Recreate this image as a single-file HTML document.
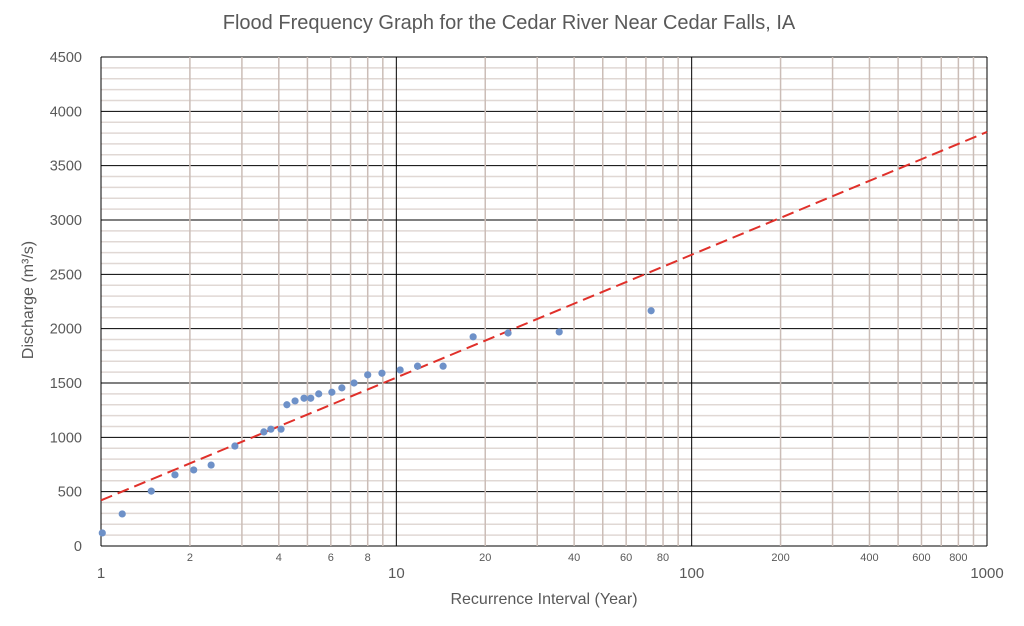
<!DOCTYPE html>
<html><head><meta charset="utf-8">
<style>
html,body{margin:0;padding:0;background:#fff;}
svg{display:block;font-family:"Liberation Sans",sans-serif;}
</style></head>
<body>
<svg id="chart" width="1024" height="626" viewBox="0 0 1024 626">
<text x="509" y="29" text-anchor="middle" font-size="20" fill="#595959">Flood Frequency Graph for the Cedar River Near Cedar Falls, IA</text>
<text transform="translate(33,300) rotate(-90)" text-anchor="middle" font-size="16" fill="#595959">Discharge (m³/s)</text>
<text x="544" y="604" text-anchor="middle" font-size="16" fill="#595959">Recurrence Interval (Year)</text>
<g id="grid"></g>
<g id="trend"></g>
<g id="points"></g>
<g id="labels"></g>
</svg>
<script>
const recurrence = [1.01,1.18,1.48,1.78,2.06,2.36,2.84,3.56,3.76,4.07,4.26,4.54,4.87,5.13,5.46,6.05,6.54,7.19,8.0,8.94,10.3,11.8,14.4,18.2,23.9,35.6,72.9];
const discharge = [120,295,505,655,700,745,920,1050,1075,1075,1300,1335,1360,1360,1400,1415,1455,1500,1575,1590,1620,1655,1655,1925,1960,1970,2165];
const trendIntercept = 420;
const trendSlope = 1130;
const yTicks = [0,500,1000,1500,2000,2500,3000,3500,4000,4500];
const xMajorTicks = [1,10,100,1000];
const xMinorLabels = [2,4,6,8,20,40,60,80,200,400,600,800];

const NS="http://www.w3.org/2000/svg";
const X0=101,X1=987,Y0=546,Y1=57;
function xs(t){return X0+Math.log10(t)/3*(X1-X0);}
function ys(q){return Y0-q/4500*(Y0-Y1);}
function mk(tag,attrs,parent){const e=document.createElementNS(NS,tag);for(const k in attrs)e.setAttribute(k,attrs[k]);parent.appendChild(e);return e;}
const grid=document.getElementById('grid');
for(let q=0;q<=4500;q+=100){
  const major=q%500===0;
  const l=mk('line',{x1:X0,x2:X1,y1:ys(q),y2:ys(q),stroke:major?'#000':'#e0d8d4','stroke-width':major?1:1.5},grid);
  
  
}
for(let d=1;d<=100;d*=10){
  for(let m=2;m<=9;m++){
    const l=mk('line',{x1:xs(d*m),x2:xs(d*m),y1:Y1,y2:Y0,stroke:'#cbbdb7','stroke-width':1.5},grid);
    
    
  }
}
xMajorTicks.forEach(t=>{
  const l=mk('line',{x1:xs(t),x2:xs(t),y1:Y1,y2:Y0,stroke:'#000','stroke-width':1},grid);
  
  
});
const trend=document.getElementById('trend');
const tl=mk('line',{x1:xs(1),y1:ys(trendIntercept),x2:xs(1000),y2:ys(trendIntercept+trendSlope*3),stroke:'#e0302a','stroke-width':2,'stroke-dasharray':'12,6'},trend);


const pts=document.getElementById('points');
recurrence.forEach((t,i)=>{
  const c=mk('circle',{cx:xs(t),cy:ys(discharge[i]),r:3.6,fill:'#6e91c8'},pts);
  
  
});
const lab=document.getElementById('labels');
yTicks.forEach(q=>{
  const t=mk('text',{x:82,y:ys(q)+5,'text-anchor':'end','font-size':14.5,fill:'#595959'},lab);
  t.textContent=q;
  
  
});
xMajorTicks.forEach(v=>{
  const t=mk('text',{x:xs(v),y:578,'text-anchor':'middle','font-size':15,fill:'#595959'},lab);
  t.textContent=v;
  
  
});
xMinorLabels.forEach(v=>{
  const t=mk('text',{x:xs(v),y:561,'text-anchor':'middle','font-size':11,fill:'#595959'},lab);
  t.textContent=v;
  
  
});
</script>
</body></html>
